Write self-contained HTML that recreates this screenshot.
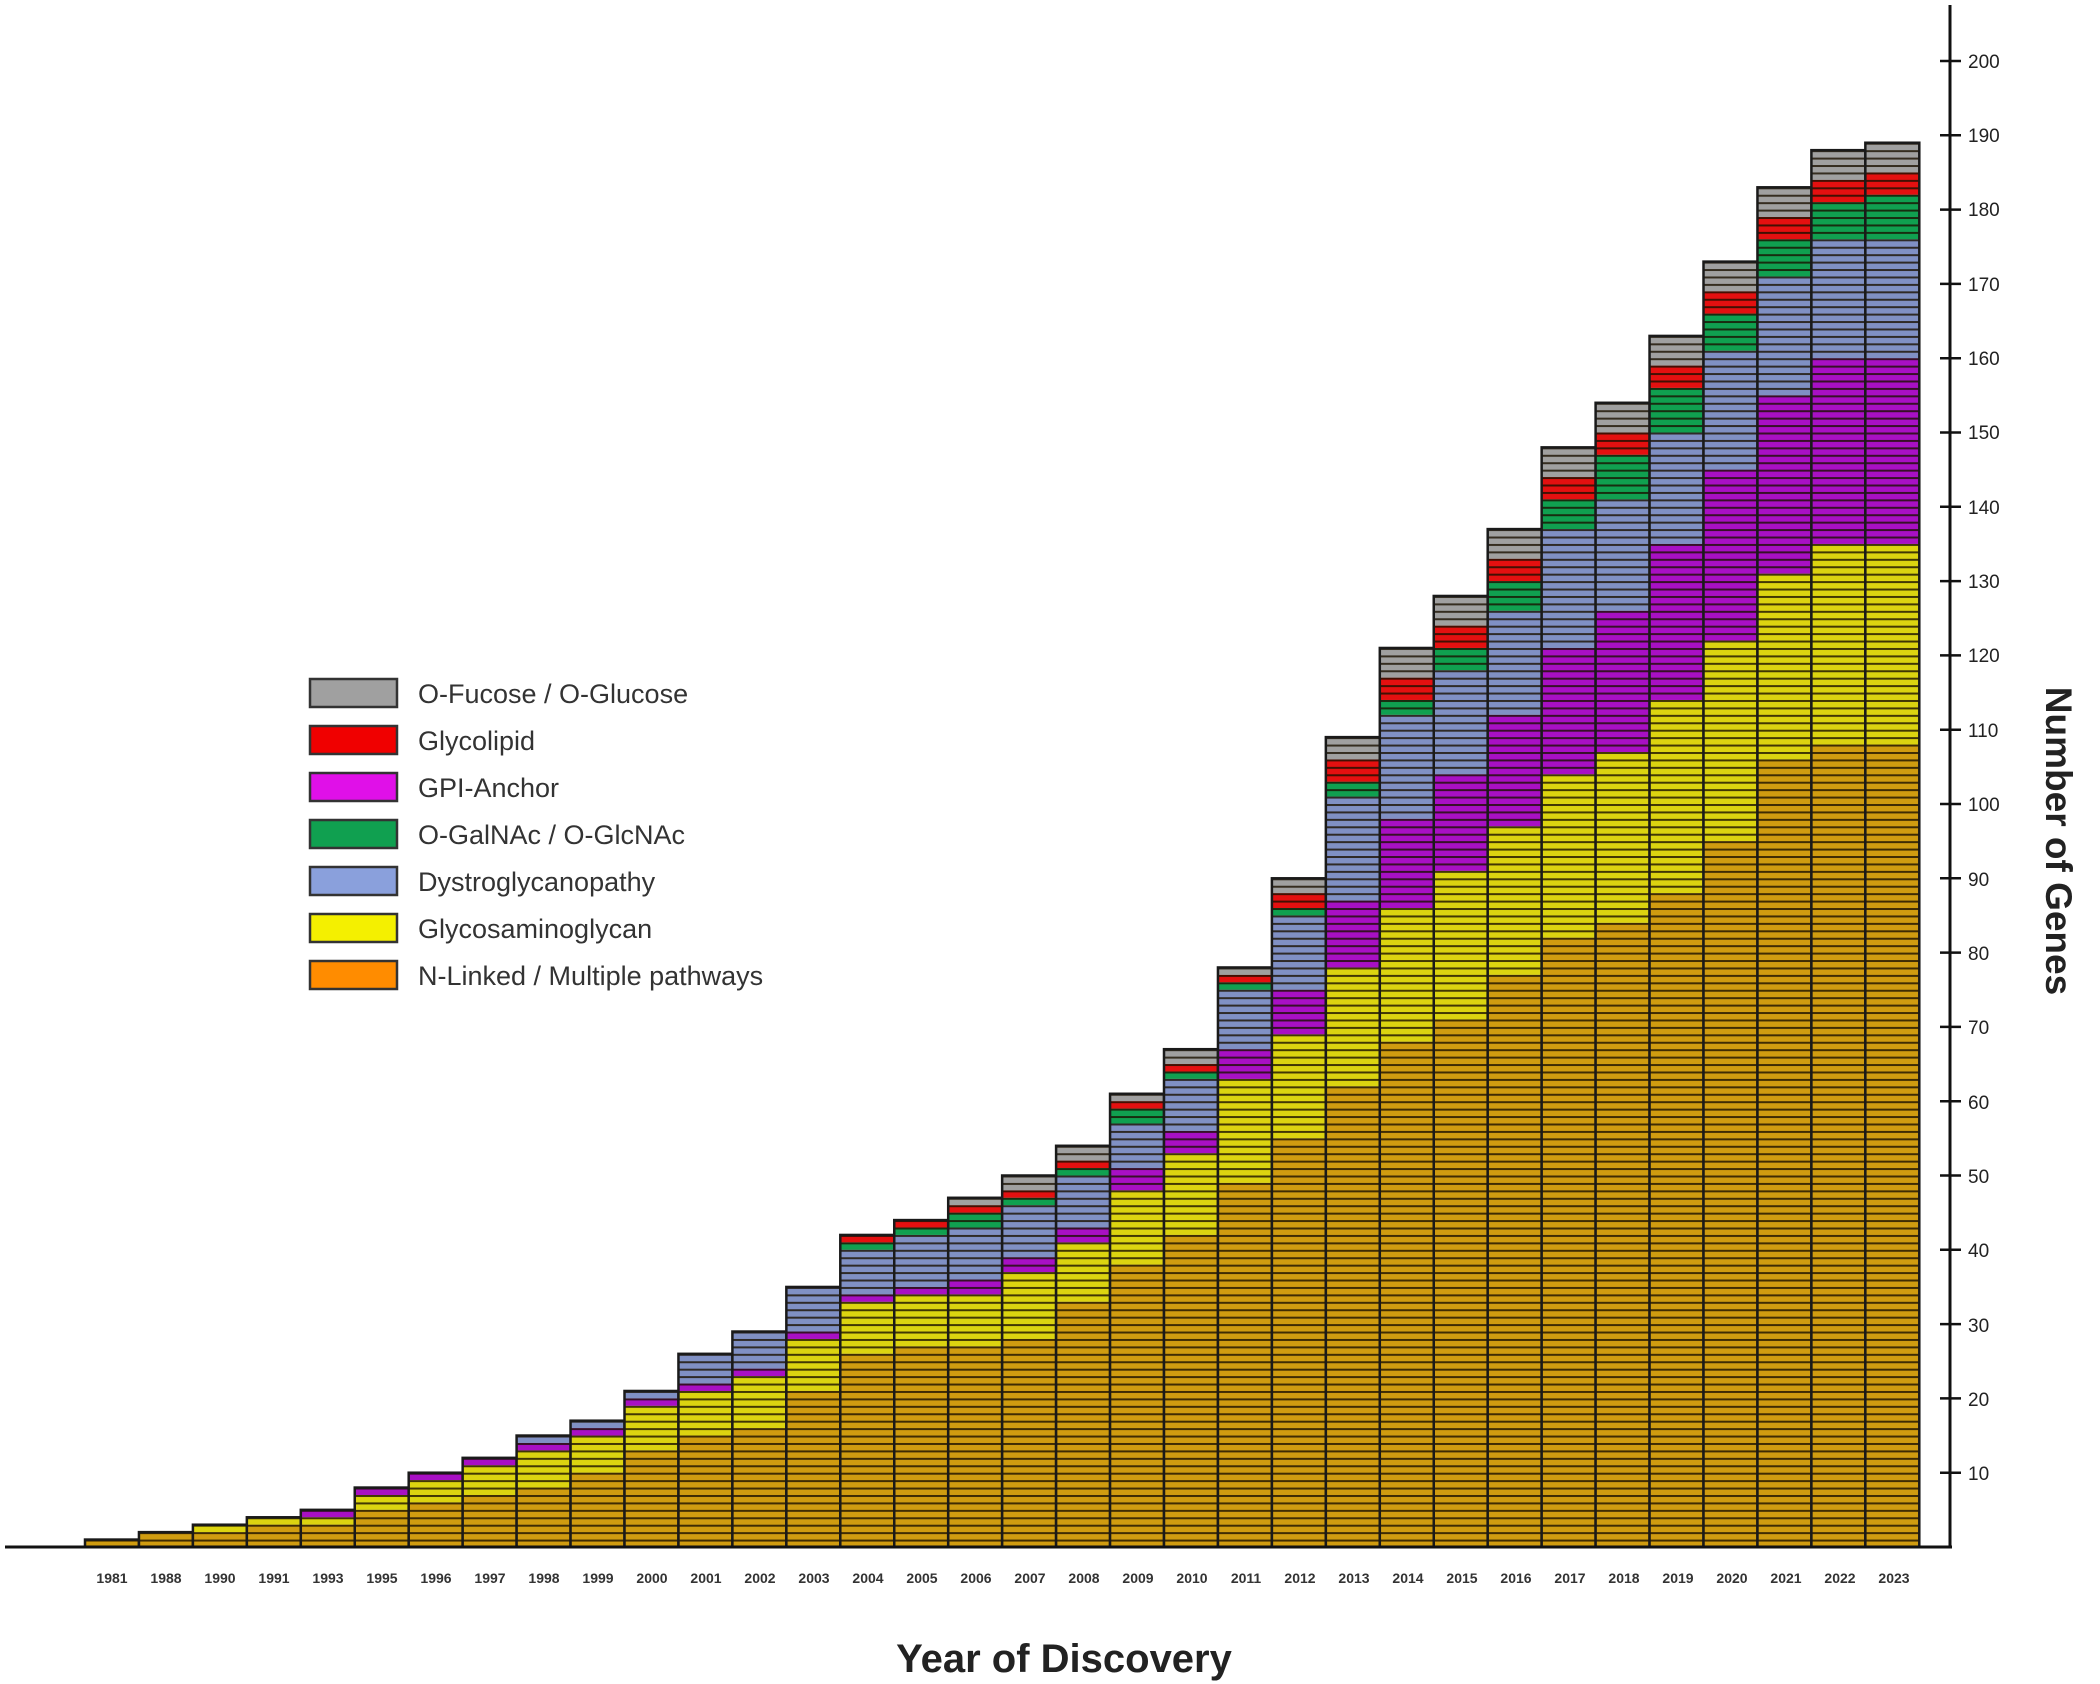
<!DOCTYPE html>
<html><head><meta charset="utf-8"><style>
html,body{margin:0;padding:0;background:#fff;}
svg{display:block;}
text{font-family:"Liberation Sans",sans-serif;}
</style></head><body>
<svg id="s" width="2100" height="1684" viewBox="0 0 2100 1684" xmlns="http://www.w3.org/2000/svg">
<defs>
<pattern id="hl" patternUnits="userSpaceOnUse" x="0" y="1547" width="10" height="7.43">
<rect x="0" y="0" width="10" height="2" fill="#1a1000" opacity="0.8"/>
</pattern>
</defs>
<g id="bars"></g>
<line x1="5" y1="1547" x2="1952" y2="1547" stroke="#111" stroke-width="3"/>
<line x1="1950" y1="5" x2="1950" y2="1548" stroke="#111" stroke-width="3"/>
<g id="ticks" stroke="#111" stroke-width="2.5"></g>
<g font-size="19" fill="#222">
<text x="1968" y="68">200</text><text x="1968" y="142">190</text><text x="1968" y="216">180</text>
<text x="1968" y="291">170</text><text x="1968" y="365">160</text><text x="1968" y="439">150</text>
<text x="1968" y="514">140</text><text x="1968" y="588">130</text><text x="1968" y="662">120</text>
<text x="1968" y="737">110</text><text x="1968" y="811">100</text><text x="1968" y="886">90</text>
<text x="1968" y="960">80</text><text x="1968" y="1034">70</text><text x="1968" y="1109">60</text>
<text x="1968" y="1183">50</text><text x="1968" y="1257">40</text><text x="1968" y="1332">30</text>
<text x="1968" y="1406">20</text><text x="1968" y="1480">10</text>
</g>
<g font-size="14" font-weight="bold" fill="#333" text-anchor="middle">
<text x="112" y="1583">1981</text><text x="166" y="1583">1988</text><text x="220" y="1583">1990</text>
<text x="274" y="1583">1991</text><text x="328" y="1583">1993</text><text x="382" y="1583">1995</text>
<text x="436" y="1583">1996</text><text x="490" y="1583">1997</text><text x="544" y="1583">1998</text>
<text x="598" y="1583">1999</text><text x="652" y="1583">2000</text><text x="706" y="1583">2001</text>
<text x="760" y="1583">2002</text><text x="814" y="1583">2003</text><text x="868" y="1583">2004</text>
<text x="922" y="1583">2005</text><text x="976" y="1583">2006</text><text x="1030" y="1583">2007</text>
<text x="1084" y="1583">2008</text><text x="1138" y="1583">2009</text><text x="1192" y="1583">2010</text>
<text x="1246" y="1583">2011</text><text x="1300" y="1583">2012</text><text x="1354" y="1583">2013</text>
<text x="1408" y="1583">2014</text><text x="1462" y="1583">2015</text><text x="1516" y="1583">2016</text>
<text x="1570" y="1583">2017</text><text x="1624" y="1583">2018</text><text x="1678" y="1583">2019</text>
<text x="1732" y="1583">2020</text><text x="1786" y="1583">2021</text><text x="1840" y="1583">2022</text>
<text x="1894" y="1583">2023</text>
</g>
<text x="1064" y="1672" font-size="40" font-weight="bold" fill="#222" text-anchor="middle">Year of Discovery</text>
<text transform="translate(2046,841) rotate(90)" font-size="37" font-weight="bold" fill="#222" text-anchor="middle">Number of Genes</text>
<g stroke="#333" stroke-width="2.5">
<rect x="310" y="679" width="87" height="28" fill="#a0a0a0"/>
<rect x="310" y="726" width="87" height="28" fill="#f00000"/>
<rect x="310" y="773" width="87" height="28" fill="#e010e8"/>
<rect x="310" y="820" width="87" height="28" fill="#10a050"/>
<rect x="310" y="867" width="87" height="28" fill="#8aa0dc"/>
<rect x="310" y="914" width="87" height="28" fill="#f4f000"/>
<rect x="310" y="961" width="87" height="28" fill="#ff8c00"/>
</g>
<g font-size="27" fill="#333">
<text x="418" y="703">O-Fucose / O-Glucose</text>
<text x="418" y="750">Glycolipid</text>
<text x="418" y="797">GPI-Anchor</text>
<text x="418" y="844">O-GalNAc / O-GlcNAc</text>
<text x="418" y="891">Dystroglycanopathy</text>
<text x="418" y="938">Glycosaminoglycan</text>
<text x="418" y="985">N-Linked / Multiple pathways</text>
</g>
</svg>
<script>
var d=[[1,0,0,0,0,0,0],[2,0,0,0,0,0,0],[2,1,0,0,0,0,0],[3,1,0,0,0,0,0],[3,1,1,0,0,0,0],[5,2,1,0,0,0,0],[6,3,1,0,0,0,0],[7,4,1,0,0,0,0],[8,5,1,1,0,0,0],[10,5,1,1,0,0,0],[13,6,1,1,0,0,0],[15,6,1,4,0,0,0],[16,7,1,5,0,0,0],[21,7,1,6,0,0,0],[26,7,1,6,1,1,0],[27,7,1,7,1,1,0],[27,7,2,7,2,1,1],[28,9,2,7,1,1,2],[33,8,2,7,1,1,2],[38,10,3,6,2,1,1],[42,11,3,7,1,1,2],[49,14,4,8,1,1,1],[55,14,6,10,1,2,2],[62,16,9,14,2,3,3],[68,18,12,14,2,3,4],[71,20,13,14,3,3,4],[77,20,15,14,4,3,4],[82,22,17,16,4,3,4],[84,23,19,15,6,3,4],[88,26,21,15,6,3,4],[95,27,23,16,5,3,4],[106,25,24,16,5,3,4],[108,27,25,16,5,3,4],[108,27,25,16,6,3,4]];
var col=["#d09c10","#dcd410","#a810c4","#8090c4","#10a050","#e41010","#a0a0a0"];
var g=document.getElementById("bars"),u=7.43,B=1547,h="";
for(var i=0;i<d.length;i++){var x=85+i*53.95,c=0;
 for(var k=0;k<7;k++){var v=d[i][k];if(!v)continue;var y0=B-(c+v)*u;
  h+='<rect x="'+x+'" y="'+y0+'" width="53.95" height="'+(v*u)+'" fill="'+col[k]+'"/>';c+=v;}
 var t=B-c*u;
 h+='<rect x="'+x+'" y="'+t+'" width="53.95" height="'+(c*u)+'" fill="url(#hl)"/>';
 h+='<rect x="'+x+'" y="'+t+'" width="53.95" height="'+(c*u)+'" fill="none" stroke="#1a1a1a" stroke-width="2.5"/>';}
g.innerHTML=h;
var tk=document.getElementById("ticks"),th="";
for(var v=10;v<=200;v+=10){var y=B-v*u;th+='<line x1="1940" y1="'+y+'" x2="1961" y2="'+y+'"/>';}
tk.innerHTML=th;
</script>
</body></html>
